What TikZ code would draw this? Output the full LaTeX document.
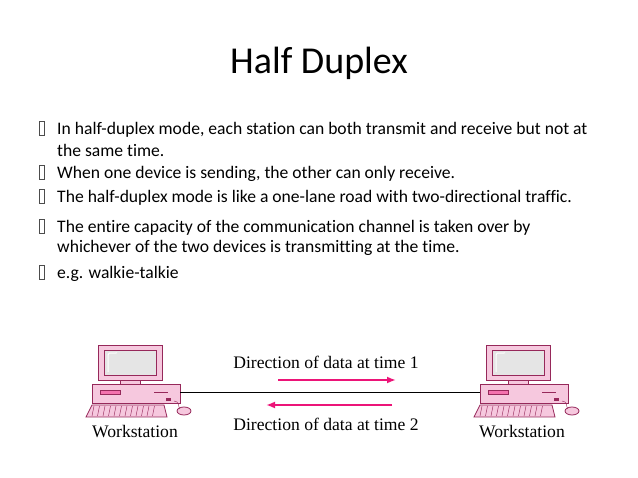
\documentclass[tikz,border=0pt]{standalone}
\usepackage{fontspec}
\setmainfont[Ligatures=NoCommon]{Carlito}
\newfontfamily\serifx{Liberation Serif}
\usetikzlibrary{arrows.meta}
\definecolor{pinkf}{RGB}{246,200,222}
\definecolor{pinkd}{RGB}{150,40,90}
\definecolor{mag}{RGB}{236,20,120}
\tikzset{
 bul/.style={draw=black!70,line width=0.5pt,minimum width=5pt,minimum height=14pt,inner sep=0pt},
 txt/.style={anchor=west,font=\fontsize{17.6}{20}\selectfont,inner sep=0pt},
 lab/.style={font=\serifx\fontsize{17.6}{20}\selectfont,inner sep=0pt},
 dar/.style={draw=mag,line width=1.8pt,-{Latex[length=9pt,width=7pt]}},
 part/.style={draw=pinkd,fill=pinkf,line width=0.8pt},
 pics/ws/.style={code={
  \draw[part] (6,-2) rectangle (70,33);
  \draw[part,fill=white!80!gray] (12,3) rectangle (64,28);
  \draw[white,line width=1pt] (16,25) -- (16,8) .. controls (16,6) .. (25,6);
  \draw[part] (28,33) rectangle (48,37);
  \draw[part] (0,37) rectangle (88,56);
  \draw[pinkd,fill=mag!60] (8,43) rectangle (28,47);
  \draw[pinkd,line width=0.8pt] (62,45) -- (76,45);
  \draw[pinkd,fill=pinkd] (74,51) rectangle (78,53);
  \draw[part] (0,58) -- (72,58) -- (75,70) -- (-6,70) -- cycle;
  \foreach \i in {0,...,11} {\draw[pinkd] (2+5.5*\i,59) -- (0+5.5*\i,69);}
  \draw[part] (92,64) ellipse (7 and 4);
  \draw[pinkd] (82,54) .. controls (88,54) and (86,61) .. (88,62);
 }}
}
\begin{document}
\begin{tikzpicture}[x=1pt,y=-1pt]
\useasboundingbox[fill=white] (0,0) rectangle (638,478);
\node (title) at (319,63) {\fontsize{38}{44}\selectfont Half Duplex};
\foreach \y/\n in {128/b1,172/b2,196/b3,226/b4,272/b5} \node[bul] (\n) at (42,\y) {};
\node[txt] (t1) at (57,130) {In half-duplex mode, each station can both transmit and receive but not at};
\node[txt] (t1b) at (57,150) {the same time.};
\node[txt] (t2) at (57,174) {When one device is sending, the other can only receive.};
\node[txt] (t3) at (57,198) {The half-duplex mode is like a one-lane road with two-directional traffic.};
\node[txt] (t4) at (57,228) {The entire capacity of the communication channel is taken over by};
\node[txt] (t4b) at (57,248) {whichever of the two devices is transmitting at the time.};
\node[txt] (t5) at (57,274) {e.g. walkie-talkie};
\pic at (92,347) {ws};
\pic at (480,347) {ws};
\coordinate (l) at (180,392);
\coordinate (r) at (480,392);
\draw[line width=0.9pt] (l) -- (r);
\node[lab] (d1) at (326,362) {Direction of data at time 1};
\node[lab] (d2) at (326,424) {Direction of data at time 2};
\coordinate (a1s) at (278,380); \coordinate (a1e) at (396,380);
\coordinate (a2s) at (392,405); \coordinate (a2e) at (266,405);
\draw[dar] (a1s) -- (a1e);
\draw[dar] (a2s) -- (a2e);
\node[lab] (w1) at (135,432) {Workstation};
\node[lab] (w2) at (522,432) {Workstation};
\end{tikzpicture}
\end{document}
